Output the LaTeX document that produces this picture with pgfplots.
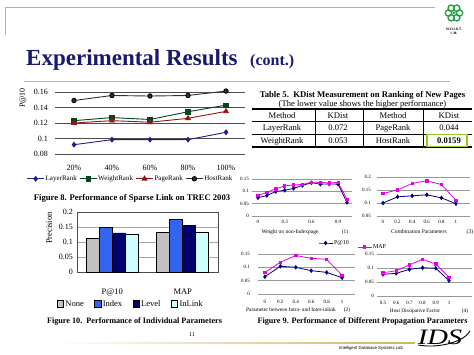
\documentclass[border=0pt]{standalone}
\usepackage{pgfplots}
\pgfplotsset{compat=1.18}
\usetikzlibrary{calc}
\usepackage{fontspec}
\setmainfont{Liberation Serif}
\newfontfamily\arialfont{Liberation Sans}
\definecolor{titleblue}{RGB}{25,25,112}
\definecolor{gold}{RGB}{205,180,95}
\definecolor{layer}{RGB}{30,30,140}
\definecolor{weight}{RGB}{0,70,30}
\definecolor{pager}{RGB}{150,20,20}
\definecolor{host}{RGB}{50,50,50}
\definecolor{idxblue}{RGB}{50,100,240}
\definecolor{lvlnavy}{RGB}{0,0,110}
\definecolor{inlink}{RGB}{205,255,255}
\definecolor{noneg}{RGB}{192,192,192}
\definecolor{pnavy}{RGB}{0,0,128}
\definecolor{mapmag}{RGB}{230,0,230}
\definecolor{boxgreen}{RGB}{150,200,30}
\definecolor{logogreen}{RGB}{40,160,70}
\newcommand{\fs}[1]{\fontsize{#1}{#1}\selectfont}
\pgfplotsset{
  smallfig/.style={
    scale only axis, clip=false,
    ymajorgrids, grid style={gray!80, line width=0.5pt},
    axis line style={draw=none}, tick style={draw=none},
    xticklabel style={font=\fs{5}, anchor=base, inner sep=0pt},
    yticklabel style={font=\fs{5}, anchor=east, inner sep=0pt},
    legend image code/.code={\draw[mark repeat=2,mark phase=2,##1] plot coordinates {(0pt,0pt) (7pt,0pt) (14pt,0pt)};},
    legend style={draw=none, fill=none, font=\fs{6}, anchor=west, inner sep=0pt, nodes={inner sep=1pt}},
  },
  pline/.style={color=pnavy, line width=0.8pt, mark=diamond*, mark size=1.7pt, mark options={fill=pnavy}},
  mline/.style={color=mapmag, line width=0.8pt, mark=square*, mark size=1.2pt, mark options={fill=mapmag}},
}
\begin{document}
\begin{tikzpicture}
\fill[white] (0,0) rectangle (474pt,355pt);
\path[use as bounding box] (0,0) rectangle (474pt,355pt);

% ---------- slide frame ----------
\draw[gold, line width=0.8pt] (5pt,320pt) -- (5pt,348pt) -- (435pt,348pt);
\draw[gold, line width=1pt] (24pt,273pt) -- (450pt,273pt);
\shade[left color=white, right color=gold] (57pt,11.5pt) rectangle (415pt,12.6pt);
\node[anchor=base west, inner sep=0pt, font=\fs{23}\bfseries, text=titleblue] at (26pt,289pt) {Experimental Results};
\node[anchor=base west, inner sep=0pt, font=\fs{16}\bfseries, text=titleblue] at (250pt,289pt) {(cont.)};
% logo top right
\foreach \a in {0,60,...,300}{
  \draw[logogreen, line width=1.4pt] ($(454pt,342pt)+(\a:5.5pt)$) circle (3.2pt);
}
\fill[logogreen] (454pt,342pt) circle (1.5pt);
\node[font=\arialfont\bfseries\fs{3.4}, inner sep=0pt] at (454pt,326pt) {N.Y.U.S.T.};
\node[font=\arialfont\bfseries\fs{3.4}, inner sep=0pt] at (454pt,321.5pt) {I. M.};
% bottom
\node[font=\fs{6}, inner sep=0pt] at (192pt,20pt) {11};
\node[font=\arialfont\fs{4.3}, inner sep=0pt] at (371pt,7pt) {Intelligent Database Systems Lab};
\node[font=\fs{22}\itshape, inner sep=0pt, xscale=1.3] at (440pt,18pt) {IDS};
\draw[black, line width=0.9pt] (418pt,10pt) .. controls (440pt,6pt) and (465pt,14pt) .. (470pt,24pt);

% ---------- Figure 8 ----------
\begin{axis}[at={(55pt,201pt)}, anchor=south west, scale only axis, width=190pt, height=62pt, clip=false,
  xmin=-0.5, xmax=4.5, ymin=0.08, ymax=0.16,
  xtick={0,...,4}, xticklabels={20\%,40\%,60\%,80\%,100\%},
  ytick={0.08,0.1,0.12,0.14,0.16}, yticklabels={0.08,0.1,0.12,0.14,0.16},
  ymajorgrids, grid style={black!70, line width=0.5pt},
  axis line style={draw=none}, tick style={draw=none},
  xticklabel style={font=\fs{8}, anchor=base, yshift=-17pt, inner sep=0pt},
  yticklabel style={font=\fs{8}, anchor=east, xshift=-7pt, inner sep=0pt},
  legend columns=4, legend cell align=left,
  legend style={draw=none, fill=none, font=\fs{7}, at={(0.395,-0.40)}, anchor=center, inner sep=0pt,
    nodes={inner sep=1pt}, /tikz/every even column/.append style={column sep=1.5pt}},
]
\addplot[color=layer, line width=0.9pt, mark=diamond*, mark size=2.3pt, mark options={fill=layer}]
  coordinates {(0,0.092) (1,0.0985) (2,0.0985) (3,0.0985) (4,0.108)};
\addlegendentry{LayerRank}
\addplot[color=weight, line width=0.9pt, mark=square*, mark size=2.2pt, mark options={fill=weight}]
  coordinates {(0,0.123) (1,0.127) (2,0.1245) (3,0.1345) (4,0.143)};
\addlegendentry{WeightRank}
\addplot[color=pager, line width=0.9pt, mark=triangle*, mark size=2.7pt, mark options={fill=pager}]
  coordinates {(0,0.120) (1,0.123) (2,0.121) (3,0.126) (4,0.135)};
\addlegendentry{PageRank}
\addplot[color=host, line width=0.9pt, mark=*, mark size=2.2pt, mark options={fill=host, draw=black}]
  coordinates {(0,0.149) (1,0.1555) (2,0.1548) (3,0.1555) (4,0.1612)};
\addlegendentry{HostRank}
\end{axis}
\node[rotate=90, font=\fs{8}, inner sep=0pt] at (23pt,257pt) {P@10};
\node[font=\fs{8.6}\bfseries, inner sep=0pt] at (132pt,157pt) {Figure 8. Performance of Sparse Link on TREC 2003};

% ---------- Table 5 ----------
\node[font=\fs{8.7}\bfseries, inner sep=0pt] at (362.5pt,260pt) {Table 5.\ \ KDist Measurement on Ranking of New Pages};
\node[font=\fs{8.6}, inner sep=0pt] at (362.5pt,251pt) {(The lower value shows the higher performance)};
\draw[line width=1.2pt] (252pt,246pt) -- (472pt,246pt);
\draw[line width=1.2pt] (252pt,208pt) -- (472pt,208pt);
\draw[line width=0.5pt] (252pt,233.3pt) -- (472pt,233.3pt);
\draw[line width=0.5pt] (252pt,220.7pt) -- (472pt,220.7pt);
\foreach \xx in {315,363,423}{\draw[line width=0.5pt] (\xx pt,246pt) -- (\xx pt,208pt);}
\begin{scope}[every node/.style={font=\fs{8.6}, inner sep=0pt, text height=1.5ex, text depth=.25ex}]
\node at (282pt,239.7pt) {Method}; \node at (338pt,239.7pt) {KDist};
\node at (393pt,239.7pt) {Method}; \node at (449pt,239.7pt) {KDist};
\node at (282pt,227pt) {LayerRank}; \node at (338pt,227pt) {0.072};
\node at (393pt,227pt) {PageRank}; \node at (449pt,227pt) {0.044};
\node at (282pt,214.3pt) {WeightRank}; \node at (338pt,214.3pt) {0.053};
\node at (393pt,214.3pt) {HostRank}; \node[font=\fs{8.6}\bfseries] at (449pt,214.3pt) {0.0159};
\end{scope}
\draw[boxgreen, line width=1.3pt] (427pt,208.8pt) rectangle (467pt,220.5pt);

% ---------- Figure 10 ----------
\begin{axis}[at={(77pt,83pt)}, anchor=south west, scale only axis, width=141pt, height=60pt, clip=false,
  ybar=0pt, bar width=13pt, xmin=-0.5, xmax=1.5, ymin=0, ymax=0.2,
  xtick={0,1}, xticklabels={P@10,MAP},
  ytick={0,0.05,0.1,0.15,0.2}, yticklabels={0,0.05,0.1,0.15,0.2},
  ymajorgrids, grid style={gray!70, line width=0.5pt},
  axis line style={black!70, line width=0.6pt}, tick style={draw=none},
  xticklabel style={font=\fs{8.5}, anchor=base, yshift=-18pt, inner sep=0pt},
  yticklabel style={font=\fs{8}, anchor=east, xshift=-4pt, inner sep=0pt},
  legend columns=4, legend cell align=left,
  legend image code/.code={\draw[#1, draw=black, line width=0.6pt] (0pt,-3.2pt) rectangle (6.4pt,3.2pt);},
  legend style={draw=none, fill=none, font=\fs{8.5}, at={(0.38,-0.533)}, anchor=center, inner sep=0pt,
    nodes={inner sep=1.5pt}, /tikz/every even column/.append style={column sep=9pt}},
]
\addplot[fill=noneg, draw=black, line width=0.6pt] coordinates {(0,0.112) (1,0.1325)};
\addlegendentry{None}
\addplot[fill=idxblue, draw=black, line width=0.6pt] coordinates {(0,0.149) (1,0.176)};
\addlegendentry{Index}
\addplot[fill=lvlnavy, draw=black, line width=0.6pt] coordinates {(0,0.130) (1,0.155)};
\addlegendentry{Level}
\addplot[fill=inlink, draw=black, line width=0.6pt] coordinates {(0,0.124) (1,0.131)};
\addlegendentry{InLink}
\end{axis}
\node[rotate=90, font=\fs{8.5}, inner sep=0pt] at (49pt,127pt) {Precision};
\node[font=\fs{8.2}\bfseries, inner sep=0pt] at (134.5pt,33pt) {Figure 10.\ \ Performance of Individual Parameters};
\node[font=\fs{8.2}\bfseries, inner sep=0pt] at (362.5pt,33pt) {Figure 9. Performance of Different Propagation Parameters};

% ---------- Figure 9 (1) ----------
\begin{axis}[smallfig, at={(252pt,139pt)}, anchor=south west, width=100pt, height=37pt,
  xmin=-0.67, xmax=10.56, ymin=0, ymax=0.15,
  xtick={0,3,6,9}, xticklabels={0,0.3,0.6,0.9},
  ytick={0,0.05,0.1,0.15}, yticklabels={0,0.05,0.1,0.15},
  xticklabel style={yshift=-8pt}, yticklabel style={xshift=-3pt}]
\addplot[pline] coordinates {(0,0.074) (1,0.083) (2,0.099) (3,0.104) (4,0.112) (5,0.124) (6,0.135) (7,0.129) (8,0.130) (9,0.129) (10,0.055)};
\addplot[mline] coordinates {(0,0.083) (1,0.096) (2,0.110) (3,0.122) (4,0.126) (5,0.128) (6,0.137) (7,0.136) (8,0.134) (9,0.136) (10,0.068)};
\end{axis}
\node[font=\fs{5.5}, inner sep=0pt] at (290pt,123pt) {Weight on non-Indexpage};
\node[font=\fs{5.5}, inner sep=0pt] at (345pt,123pt) {(1)};

% ---------- Figure 9 (3) ----------
\begin{axis}[smallfig, at={(377pt,139pt)}, anchor=south west, width=93pt, height=39pt,
  xmin=-0.41, xmax=5.96, ymin=0.05, ymax=0.2,
  xtick={0,...,5}, xticklabels={0,0.2,0.4,0.6,0.8,1},
  ytick={0.05,0.1,0.15,0.2}, yticklabels={0.05,0.1,0.15,0.2},
  xticklabel style={yshift=-8pt}, yticklabel style={xshift=-6pt}]
\addplot[pline] coordinates {(0,0.100) (1,0.1237) (2,0.1276) (3,0.1316) (4,0.1197) (5,0.0974)};
\addplot[mline] coordinates {(0,0.1368) (1,0.150) (2,0.175) (3,0.1855) (4,0.171) (5,0.1105)};
\end{axis}
\node[font=\fs{5.6}, inner sep=0pt] at (419pt,123pt) {Combination Parameters};
\node[font=\fs{5.6}, inner sep=0pt] at (470pt,123pt) {(3)};

% ---------- Figure 9 (2) ----------
\begin{axis}[smallfig, at={(258pt,61pt)}, anchor=south west, width=97pt, height=40pt,
  xmin=-0.45, xmax=5.84, ymin=0, ymax=0.15,
  xtick={0,...,5}, xticklabels={0,0.2,0.4,0.6,0.8,1},
  ytick={0,0.05,0.1,0.15}, yticklabels={0,0.05,0.1,0.15},
  xticklabel style={yshift=-10pt}, yticklabel style={xshift=-8pt},
  legend style={at={(0.619,1.275)}}]
\addplot[pline] coordinates {(0,0.065) (1,0.104) (2,0.100) (3,0.0875) (4,0.081) (5,0.061)};
\addlegendentry{P@10}
\addplot[mline, forget plot] coordinates {(0,0.081) (1,0.119) (2,0.144) (3,0.134) (4,0.130) (5,0.070)};
\end{axis}
\node[font=\fs{5.4}, inner sep=0pt] at (291pt,45pt) {Parameter between Intra- and Inter-inlink};
\node[font=\fs{5.4}, inner sep=0pt] at (347pt,45pt) {(2)};

% ---------- Figure 9 (4) ----------
\begin{axis}[smallfig, at={(377pt,59pt)}, anchor=south west, width=95pt, height=42pt,
  xmin=-0.45, xmax=6.74, ymin=0, ymax=0.15,
  xtick={0,...,5}, xticklabels={0.5,0.6,0.7,0.8,0.9,1},
  ytick={0,0.05,0.1,0.15}, yticklabels={0,0.05,0.1,0.15},
  xticklabel style={yshift=-9pt}, yticklabel style={xshift=-3pt},
  legend style={at={(-0.21,1.167)}}]
\addplot[pline, forget plot] coordinates {(0,0.0774) (1,0.081) (2,0.095) (3,0.101) (4,0.099) (5,0.055)};
\addplot[mline] coordinates {(0,0.083) (1,0.090) (2,0.111) (3,0.131) (4,0.114) (5,0.067)};
\addlegendentry{MAP}
\end{axis}
\node[font=\fs{5.3}, inner sep=0pt] at (415pt,44pt) {Heat Dissipative Factor};
\node[font=\fs{5.3}, inner sep=0pt] at (465pt,44pt) {(4)};
\end{tikzpicture}
\end{document}
